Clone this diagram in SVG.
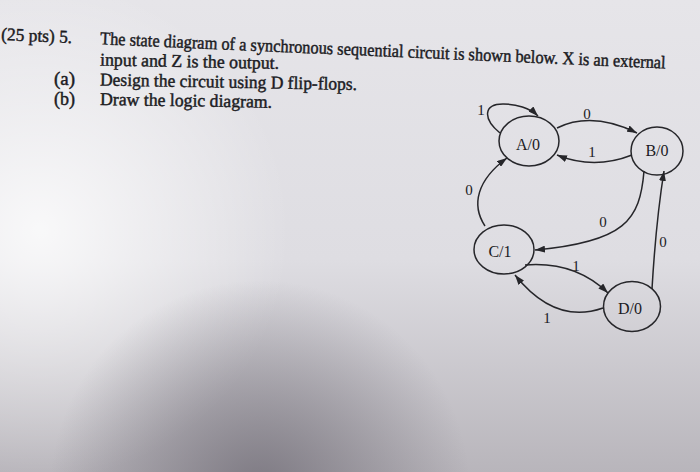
<svg xmlns="http://www.w3.org/2000/svg" width="700" height="472" viewBox="0 0 700 472">
<style>
.t{font-family:"Liberation Serif","Times New Roman",serif;font-size:18px;fill:#1b1b1f;stroke:#1b1b1f;stroke-width:0.45}
.n{font-family:"Liberation Serif","Times New Roman",serif;font-size:16px;fill:#1b1b1f;text-anchor:middle}
.l{font-family:"Liberation Serif","Times New Roman",serif;font-size:15px;fill:#1b1b1f;text-anchor:middle}
.st{fill:none;stroke:#26262a;stroke-width:1.5}
.e{fill:none;stroke:#26262a;stroke-width:1.5;marker-end:url(#ah)}
</style>
<defs>
<linearGradient id="bg" x1="0" y1="0" x2="0" y2="1">
<stop offset="0" stop-color="#e6e5e9"/>
<stop offset="0.55" stop-color="#dedde2"/>
<stop offset="1" stop-color="#b8b5bb"/>
</linearGradient>
<radialGradient id="hl" cx="40" cy="230" r="250" gradientUnits="userSpaceOnUse">
<stop offset="0" stop-color="#ffffff" stop-opacity="0.8"/>
<stop offset="1" stop-color="#ffffff" stop-opacity="0"/>
</radialGradient>
<radialGradient id="dk" cx="260" cy="490" r="210" gradientUnits="userSpaceOnUse">
<stop offset="0" stop-color="#6a6670" stop-opacity="0.75"/>
<stop offset="1" stop-color="#6a6670" stop-opacity="0"/>
</radialGradient>
<marker id="ah" viewBox="0 0 10 7" refX="10" refY="3.5" markerWidth="10" markerHeight="7" markerUnits="userSpaceOnUse" orient="auto">
<path d="M0,0 L10,3.5 L0,7 z" fill="#26262a"/>
</marker>
</defs>
<rect width="700" height="472" fill="url(#bg)"/>
<rect width="700" height="472" fill="url(#hl)"/>
<rect width="700" height="472" fill="url(#dk)"/>

<g id="question">
<g transform="rotate(2.45 0 40)">
<text class="t" x="1" y="40" textLength="71" lengthAdjust="spacingAndGlyphs">(25 pts) 5.</text>
<text class="t" x="100" y="40" textLength="566" lengthAdjust="spacingAndGlyphs">The state diagram of a synchronous sequential circuit is shown below. X is an external</text>
</g>
<text class="t" x="100" y="65.5" textLength="179" lengthAdjust="spacingAndGlyphs" transform="rotate(1.1 100 65.5)">input and Z is the output.</text>
<text class="t" x="54" y="85" textLength="21" lengthAdjust="spacingAndGlyphs">(a)</text>
<text class="t" x="100" y="85.5" textLength="257" lengthAdjust="spacingAndGlyphs" transform="rotate(1 100 85.5)">Design the circuit using D flip-flops.</text>
<text class="t" x="54" y="105" textLength="21" lengthAdjust="spacingAndGlyphs">(b)</text>
<text class="t" x="100" y="105" textLength="172" lengthAdjust="spacingAndGlyphs" transform="rotate(0.9 100 105)">Draw the logic diagram.</text>
</g>

<g id="connectors">
<path class="e" d="M500,133 C482,118 484,104 503,104 C516,104 530,108 538,116"/>
<path class="e" d="M557,128 Q592,111 637,133"/>
<path class="e" d="M632,155 Q594,170 557,155"/>
<path class="e" d="M644,171 C640,220 625,242 535,250"/>
<path class="e" d="M485,226 C471,205 477,180 507,158"/>
<path class="e" d="M525,265 Q575,261 608,293"/>
<path class="e" d="M603,308 Q555,325 515,275"/>
<path class="e" d="M652,289 C654,255 657,215 664,171"/>
<text class="l" x="481" y="115">1</text>
<text class="l" x="587" y="119">0</text>
<text class="l" x="592" y="157">1</text>
<text class="l" x="469" y="195">0</text>
<text class="l" x="603" y="227">0</text>
<text class="l" x="663" y="247">0</text>
<text class="l" x="576" y="271">1</text>
<text class="l" x="547" y="323">1</text>
</g>

<g id="A"><ellipse class="st" cx="529" cy="141" rx="30" ry="25"/><text class="n" x="528" y="150">A/0</text></g>
<g id="B"><ellipse class="st" cx="657" cy="151" rx="26" ry="24"/><text class="n" x="657" y="156">B/0</text></g>
<g id="C"><ellipse class="st" cx="504" cy="249.5" rx="30" ry="24.5"/><text class="n" x="500" y="257">C/1</text></g>
<g id="D"><ellipse class="st" cx="632" cy="306.5" rx="28.5" ry="25"/><text class="n" x="630" y="314">D/0</text></g>
</svg>
